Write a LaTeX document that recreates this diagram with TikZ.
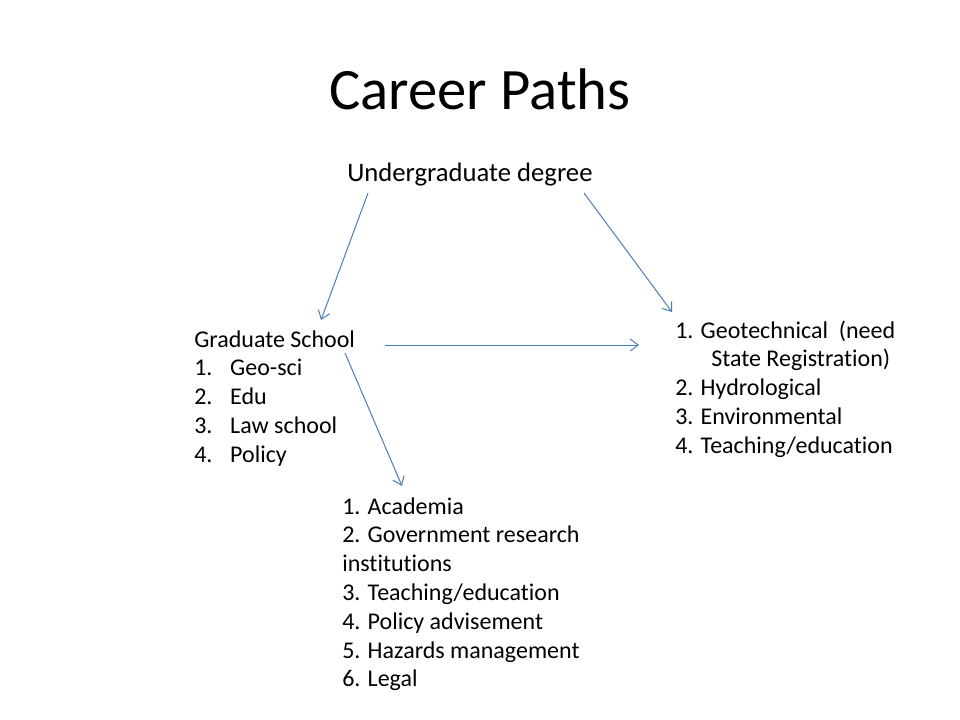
\documentclass[tikz,border=0pt]{standalone}
\usepackage{fontspec}
\setmainfont{Carlito}[Ligatures={CommonOff}]
\usetikzlibrary{arrows.meta}
\definecolor{arrowblue}{HTML}{4A7EBB}
\tikzset{
  txt/.style={anchor=base west, inner sep=0pt, text=black, font=\fontsize{18}{21.6}\selectfont},
  link/.style={draw=arrowblue, line width=0.75pt, -{Straight Barb[length=6pt,width=9pt]}}
}
\newcommand{\itm}[2]{\hbox{\makebox[27pt][l]{#1}#2}}
\begin{document}
\begin{tikzpicture}[x=0.75pt,y=-0.75pt]
\useasboundingbox[fill=white] (0,0) rectangle (960,720);
\node[anchor=base, inner sep=0pt, font=\fontsize{44}{52}\selectfont] (title) at (480,110) {Career Paths};
\node[txt, font=\fontsize{20}{24}\selectfont] (ug) at (347,182) {Undergraduate degree};
\node[txt] (gs) at (194,347) {\vtop{\baselineskip=21.6pt
  \hbox{Graduate School}
  \itm{1.}{Geo-sci}
  \itm{2.}{Edu}
  \itm{3.}{Law school}
  \itm{4.}{Policy}}};
\node[txt] (ind) at (675,338) {\vtop{\baselineskip=21.6pt
  \hbox{1. Geotechnical\ \ (need}
  \hbox{\hspace{27pt}State Registration)}
  \hbox{2. Hydrological}
  \hbox{3. Environmental}
  \hbox{4. Teaching/education}}};
\node[txt] (acad) at (342,514) {\vtop{\baselineskip=21.6pt
  \hbox{1. Academia}
  \hbox{2. Government research}
  \hbox{institutions}
  \hbox{3. Teaching/education}
  \hbox{4. Policy advisement}
  \hbox{5. Hazards management}
  \hbox{6. Legal}}};
\coordinate (ugL) at (368,193);
\coordinate (ugR) at (584,193);
\coordinate (gsIn) at (321,320);
\coordinate (indIn) at (672,312);
\coordinate (gsR) at (385,345);
\coordinate (indL) at (639,345);
\coordinate (gsB) at (345,353);
\coordinate (acadIn) at (402,486);
\draw[link] (ugL) -- (gsIn);
\draw[link] (ugR) -- (indIn);
\draw[link] (gsR) -- (indL);
\draw[link] (gsB) -- (acadIn);
\end{tikzpicture}
\end{document}
